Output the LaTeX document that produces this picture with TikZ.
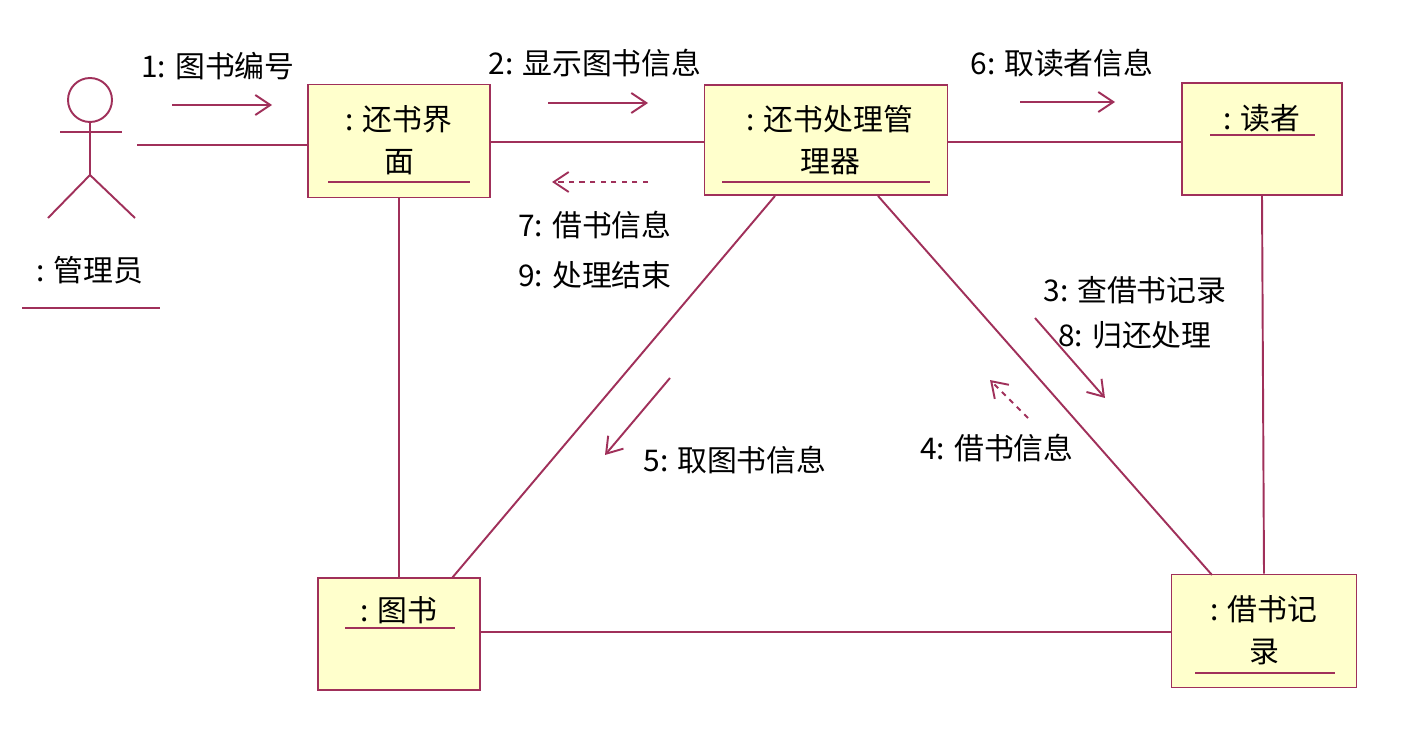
\documentclass[tikz,border=0pt]{standalone}
\usepackage{fontspec}
\setmainfont{Noto Sans CJK SC}
\usetikzlibrary{arrows.meta}
\definecolor{umlline}{HTML}{A0305A}
\definecolor{umlfill}{HTML}{FFFFCC}
\tikzset{>={Straight Barb[length=3mm,width=4mm]}}
\begin{document}
\begin{tikzpicture}[x=0.02cm, y=-0.02cm, line width=1.1pt,
    obj/.style={draw=umlline, fill=umlfill, rectangle, inner sep=0pt},
    lbl/.style={font=\fontsize{17}{24}\selectfont, align=center, inner sep=1pt},
    link/.style={draw=umlline}]
    \useasboundingbox (0,0) rectangle (1417,750);
    % objects
    \node[obj, minimum width=3.64cm, minimum height=2.26cm] (jm) at (399,141) {};
    \node[obj, minimum width=4.86cm, minimum height=2.2cm] (gl) at (826,140) {};
    \node[obj, minimum width=3.2cm, minimum height=2.24cm] (dz) at (1262,139) {};
    \node[obj, minimum width=3.24cm, minimum height=2.24cm] (ts) at (399,634) {};
    \node[obj, minimum width=3.7cm, minimum height=2.26cm] (jl) at (1264,631) {};
    \node[lbl] (tjm) at (399,140) {: 还书界\\面};
    \node[lbl] (tgl) at (830,140) {: 还书处理管\\理器};
    \node[lbl] (tdz) at (1262,118) {: 读者};
    \node[lbl] (tts) at (399,610) {: 图书};
    \node[lbl] (tjl) at (1264,630) {: 借书记\\录};
    \draw[umlline] (328,182) -- (470,182);
    \draw[umlline] (722,182) -- (930,182);
    \draw[umlline] (1210,135) -- (1315,135);
    \draw[umlline] (345,628) -- (455,628);
    \draw[umlline] (1195,673) -- (1335,673);
    % actor
    \node[draw=umlline, circle, minimum size=0.88cm, inner sep=0pt] (hd) at (90,100) {};
    \coordinate (hip) at (90,175);
    \draw[umlline] (hd.south) -- (hip);
    \draw[umlline] (60,132) -- (122,132);
    \draw[umlline] (48,218) -- (hip) -- (135,218);
    \node[lbl] (act) at (90,270) {: 管理员};
    \draw[umlline] (22,308) -- (160,308);
    \coordinate (ar) at (137,145);
    % links
    \draw[link] (ar) -- (jm.west |- ar);
    \draw[link] (jm.east |- 0,142) -- (gl.west |- 0,142);
    \draw[link] (gl.east |- 0,142) -- (dz.west |- 0,142);
    \draw[link] (jm.south) -- (ts.north);
    \draw[link] (gl.south -| 775,0) -- (452,578);
    \draw[link] (gl.south -| 878,0) -- (1212,575);
    \draw[link] (dz.south) -- (jl.north);
    \draw[link] (ts.east |- 0,632) -- (jl.west |- 0,632);
    % messages
    \draw[umlline, ->] (172,105) -- (272,105);
    \node[lbl] (m1) at (218,66) {1: 图书编号};
    \draw[umlline, ->] (548,103) -- (648,103);
    \node[lbl] (m2) at (595,63) {2: 显示图书信息};
    \draw[umlline, ->] (1020,102) -- (1115,102);
    \node[lbl] (m6) at (1062,63) {6: 取读者信息};
    \draw[umlline, ->, dashed] (648,182) -- (552,182);
    \node[lbl] (m7) at (595,225) {7: 借书信息};
    \node[lbl] (m9) at (595,275) {9: 处理结束};
    \draw[umlline, ->] (1035,318) -- (1105,398);
    \node[lbl] (m3) at (1135,290) {3: 查借书记录};
    \node[lbl] (m8) at (1135,335) {8: 归还处理};
    \draw[umlline, ->] (670,378) -- (605,455);
    \node[lbl] (m5) at (735,460) {5: 取图书信息};
    \draw[umlline, ->, dashed] (1028,418) -- (990,380);
    \node[lbl] (m4) at (997,448) {4: 借书信息};
\end{tikzpicture}
\end{document}
